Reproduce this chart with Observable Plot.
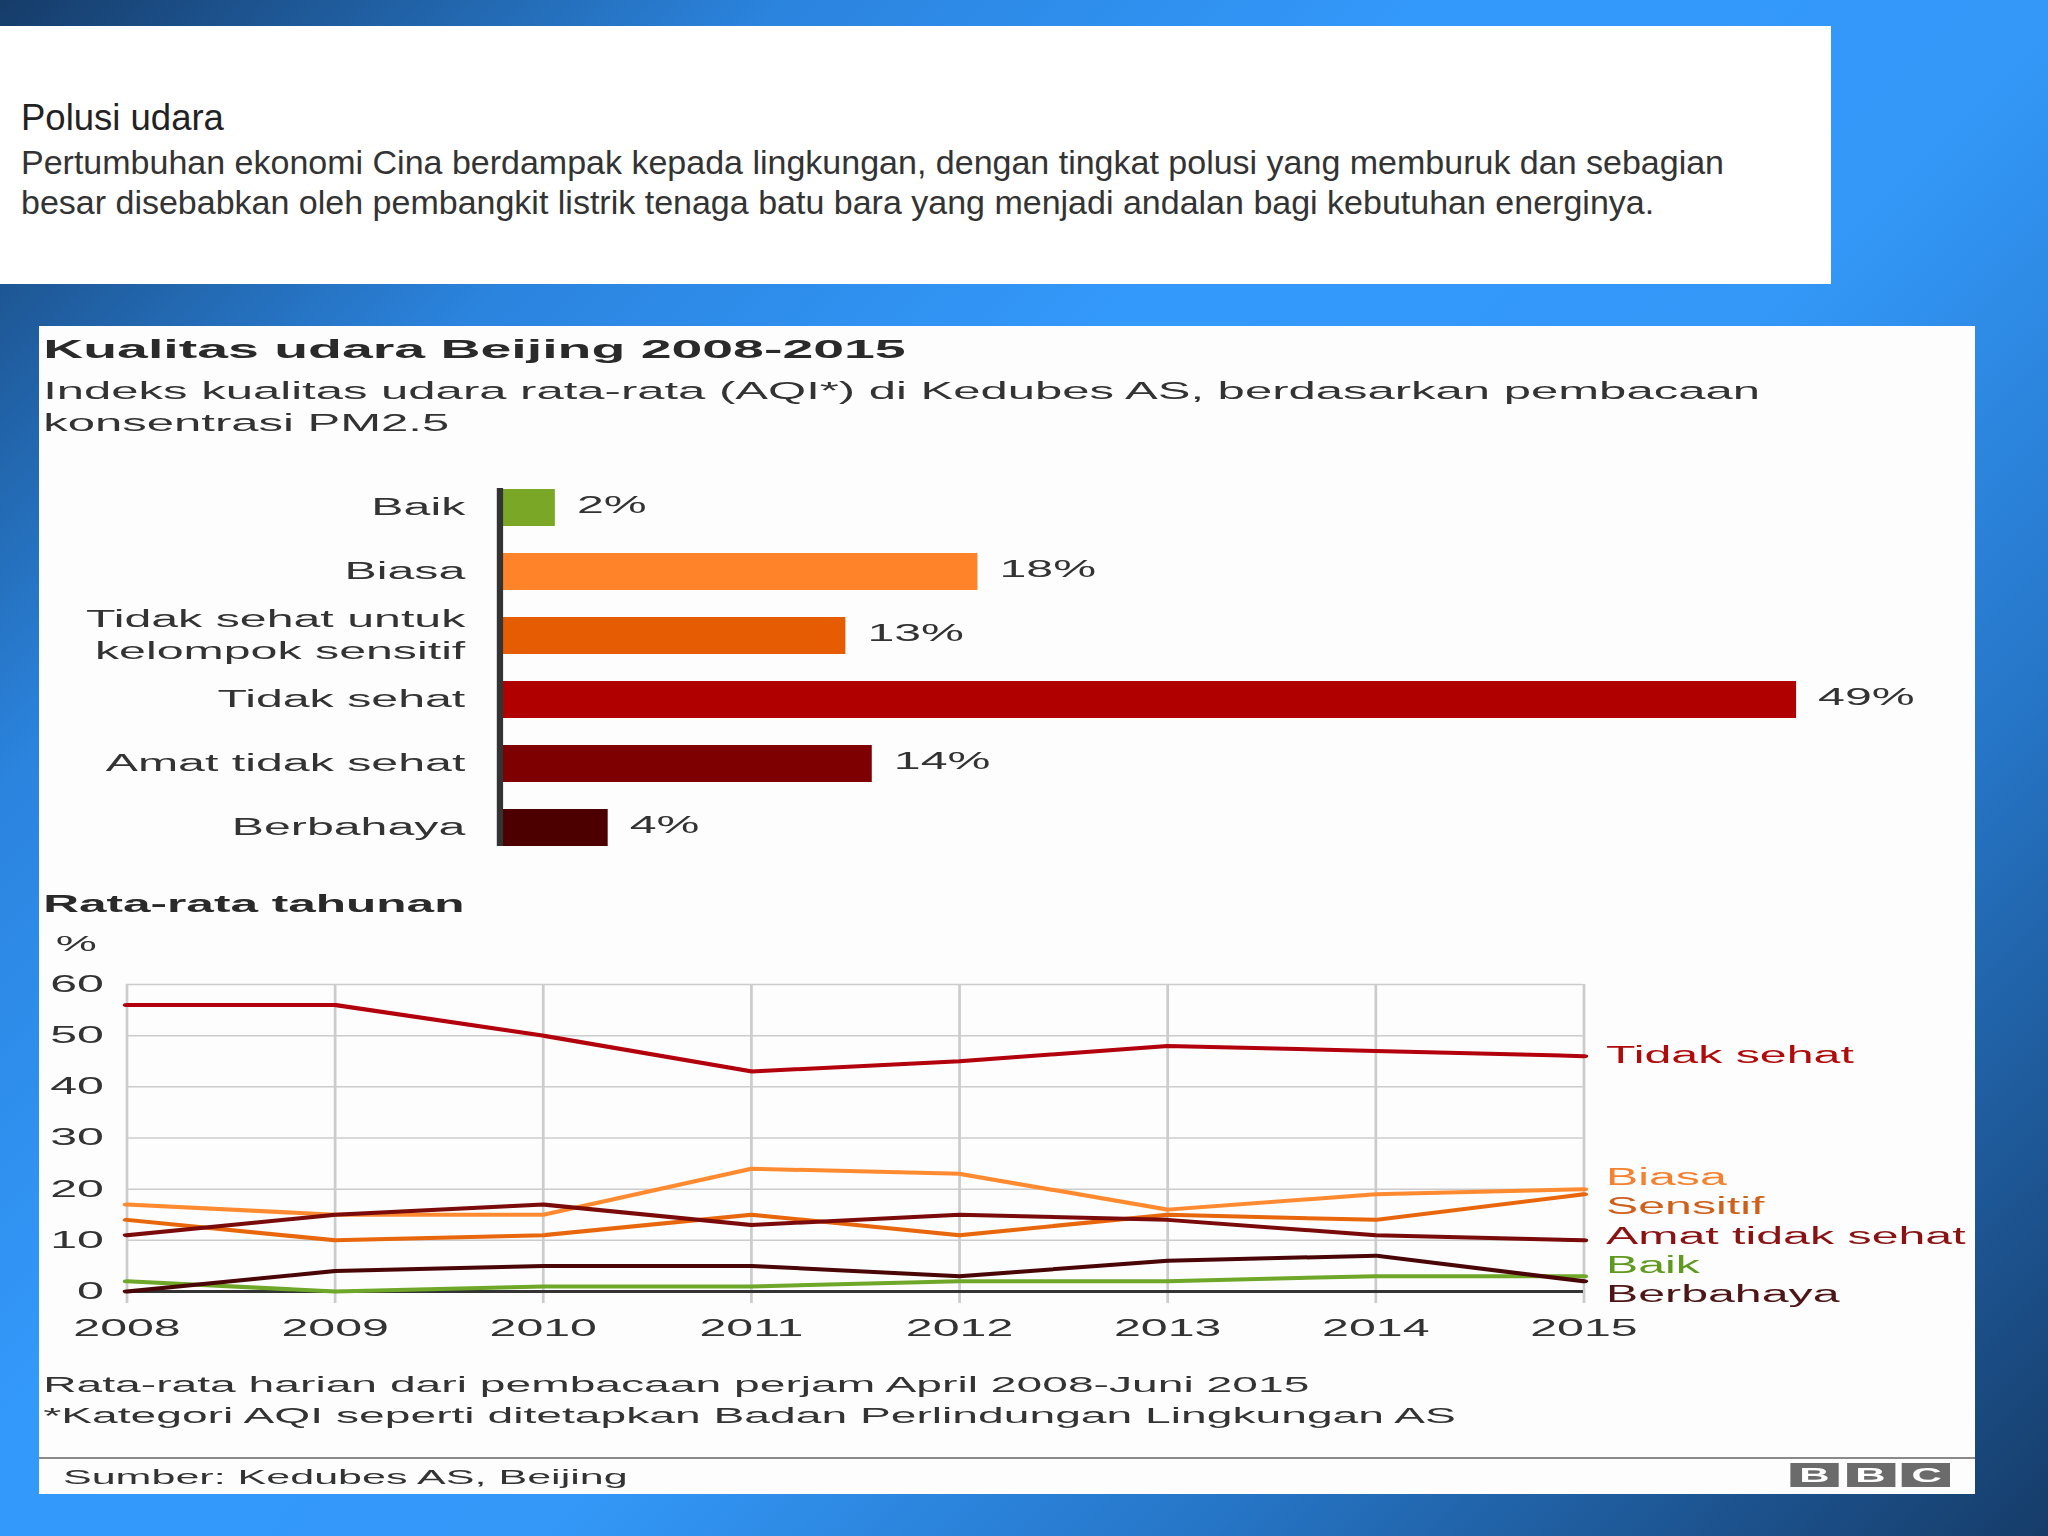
<!DOCTYPE html>
<html><head><meta charset="utf-8">
<script src="https://cdn.jsdelivr.net/npm/d3@7"></script>
<script src="https://cdn.jsdelivr.net/npm/@observablehq/plot@0.6"></script>
<style>
html,body{margin:0;padding:0;}
body{width:2048px;height:1536px;position:relative;overflow:hidden;font-family:"Liberation Sans",Arial,Helvetica,sans-serif;
background:linear-gradient(135deg,#163c69 0%,#2b84de 22%,#3399fb 40%,#3398f8 58%,#2676c8 76%,#163c69 100%);}
.abs{position:absolute;white-space:nowrap;}
#header{position:absolute;left:0;top:26px;width:1831px;height:258px;background:#fff;}
#chartbox{position:absolute;left:39px;top:326px;width:1936px;height:1168px;background:#fdfdfd;overflow:hidden;}
#inner{position:absolute;left:0;top:0;width:922px;height:1168px;transform:scaleX(2.1);transform-origin:0 0;}
#inner svg{position:absolute;left:0;overflow:visible;}
.bbc{position:absolute;top:1137px;width:23.3px;height:24px;background:#6b6b6b;color:#fff;font-weight:bold;font-size:20px;line-height:24px;text-align:center;}
</style></head>
<body>
<div id="header"></div>
<div id="chartbox"><div id="inner"></div></div>
<script>
// ---- data ----
const categories = ["Baik", "Biasa", "Tidak sehat untuk\nkelompok sensitif", "Tidak sehat", "Amat tidak sehat", "Berbahaya"];
const shares = [2, 18, 13, 49, 14, 4];
const barColors = ["#7aa826", "#fe8329", "#e65c02", "#b10000", "#7e0000", "#4c0000"];

const years = [2008, 2009, 2010, 2011, 2012, 2013, 2014, 2015];
const seriesNames = ["Tidak sehat", "Biasa", "Sensitif", "Amat tidak sehat", "Baik", "Berbahaya"];
const tidakSehat = [56, 56, 50, 43, 45, 48, 47, 46];
const biasa = [17, 15, 15, 24, 23, 16, 19, 20];
const sensitif = [14, 10, 11, 15, 11, 15, 14, 19];
const amatTidakSehat = [11, 15, 17, 13, 15, 14, 11, 10];
const baik = [2, 0, 1, 1, 2, 2, 3, 3];
const berbahaya = [0, 4, 5, 5, 3, 6, 7, 2];
const yTicks = [0, 10, 20, 30, 40, 50, 60];
const lineColors = ["#b3000d", "#ff8a30", "#e8660c", "#7b0a0a", "#6fa728", "#4a0606"];
const labelColors = ["#b00a0a", "#f3812f", "#cf601c", "#8a1212", "#5f9a1f", "#4d1515"];

const FONT = '"Liberation Sans", Arial, Helvetica, sans-serif';

function txt(parent, s, x, baseline, size, opts = {}) {
  const d = document.createElement("div");
  d.className = "abs";
  d.textContent = s;
  d.style.left = x + "px";
  d.style.top = (baseline - 0.8465 * size) + "px";
  d.style.fontSize = size + "px";
  d.style.lineHeight = size + "px";
  d.style.fontWeight = opts.bold ? "bold" : "normal";
  d.style.color = opts.color || "#333";
  parent.appendChild(d);
}

// ---- header ----
const header = document.getElementById("header");
txt(header, "Polusi udara", 21, 105, 36.5, {color: "#222"});
txt(header, "Pertumbuhan ekonomi Cina berdampak kepada lingkungan, dengan tingkat polusi yang memburuk dan sebagian", 21, 148, 34, {color: "#333"});
txt(header, "besar disebabkan oleh pembangkit listrik tenaga batu bara yang menjadi andalan bagi kebutuhan energinya.", 21, 188, 34, {color: "#333"});

// ---- chart box texts ----
const inner = document.getElementById("inner");
txt(inner, "Kualitas udara Beijing 2008-2015", 2, 32, 26.4, {bold: true, color: "#2a2a2a"});
txt(inner, "Indeks kualitas udara rata-rata (AQI*) di Kedubes AS, berdasarkan pembacaan", 2, 74, 23.35);
txt(inner, "konsentrasi PM2.5", 2, 106, 23.35);
txt(inner, "Rata-rata tahunan", 2, 587, 23.6, {bold: true, color: "#2a2a2a"});
txt(inner, "%", 8, 626, 22);
txt(inner, "Rata-rata harian dari pembacaan perjam April 2008-Juni 2015", 2, 1067, 22);
txt(inner, "*Kategori AQI seperti ditetapkan Badan Perlindungan Lingkungan AS", 2, 1098, 22);
txt(inner, "Sumber: Kedubes AS, Beijing", 11.4, 1158, 20.5);
const sep = document.createElement("div");
sep.style.cssText = "position:absolute;left:0;top:1131px;width:922px;height:2px;background:#8a8a8a;";
inner.appendChild(sep);
["B", "B", "C"].forEach((ch, i) => {
  const b = document.createElement("div");
  b.className = "bbc";
  b.style.left = (833.8 + i * 26.7) + "px";
  b.textContent = ch;
  inner.appendChild(b);
});

// ---- bar chart ----
const barData = categories.map((c, i) => ({cat: c, value: shares[i]}));
const barPlot = Plot.plot({
  width: 922, height: 400,
  marginTop: 22, marginBottom: 20, marginLeft: 220.5, marginRight: 85.3,
  x: {domain: [0, d3.max(shares)], axis: null},
  y: {domain: categories, axis: null, paddingInner: 0.424, paddingOuter: 0},
  color: {domain: categories, range: barColors},
  style: {fontFamily: FONT, fontSize: "23px", color: "#333", background: "none"},
  marks: [
    Plot.barX(barData, {x: "value", y: "cat", fill: "cat"}),
    Plot.ruleX([0], {stroke: "#333", strokeWidth: 3, dx: -1.5}),
    Plot.text(barData, {x: 0, y: "cat", text: "cat", textAnchor: "end", dx: -18, dy: -3, lineHeight: 1.39, fontSize: 23, fill: "#333"}),
    Plot.text(barData, {x: "value", y: "cat", text: d => d.value + "%", textAnchor: "start", dx: 10, dy: -2, fontSize: 23, fill: "#333"})
  ]
});
barPlot.style.top = "140px";
inner.appendChild(barPlot);

// ---- line chart ----
const seriesValues = [tidakSehat, biasa, sensitif, amatTidakSehat, baik, berbahaya];
const lineData = seriesNames.flatMap((s, i) => years.map((y, j) => ({series: s, year: y, value: seriesValues[i][j]})));
const lastYear = years[years.length - 1];
const finals = seriesNames.map((s, i) => ({series: s, value: seriesValues[i][years.length - 1], color: labelColors[i]}));

function spread(items, gap) {
  const sorted = items.slice().sort((a, b) => b.value - a.value);
  let clusters = sorted.map(d => ({items: [d], center: d.value}));
  let changed = true;
  while (changed) {
    changed = false;
    for (let i = 0; i < clusters.length - 1; i++) {
      const a = clusters[i], b = clusters[i + 1];
      const aBottom = a.center - (a.items.length - 1) / 2 * gap;
      const bTop = b.center + (b.items.length - 1) / 2 * gap;
      if (aBottom - bTop < gap) {
        const merged = a.items.concat(b.items);
        clusters.splice(i, 2, {items: merged, center: d3.mean(merged, d => d.value)});
        changed = true;
        break;
      }
    }
  }
  const out = [];
  for (const c of clusters) c.items.forEach((d, k) => out.push({...d, labelY: c.center + ((c.items.length - 1) / 2 - k) * gap}));
  return out;
}
const endLabels = spread(finals, 5.7);

const linePlot = Plot.plot({
  width: 922, height: 380,
  marginTop: 18, marginBottom: 55, marginLeft: 41.4, marginRight: 186.8,
  x: {domain: d3.extent(years)},
  y: {domain: [0, d3.max(yTicks)]},
  color: {domain: seriesNames, range: lineColors},
  style: {fontFamily: FONT, fontSize: "23px", color: "#333", background: "none"},
  marks: [
    Plot.gridY(yTicks, {stroke: "#cccccc", strokeOpacity: 1, strokeWidth: 1.5}),
    Plot.gridX(years, {stroke: "#cccccc", strokeOpacity: 1, strokeWidth: 1.3}),
    Plot.axisX({ticks: years, tickFormat: d => String(d), tickSize: 12, tickPadding: 16, stroke: "#cccccc", strokeWidth: 1.3, fill: "#333", fontSize: 23, label: null}),
    Plot.axisY({ticks: yTicks, tickSize: 0, tickPadding: 11, fill: "#333", fontSize: 23, label: null}),
    Plot.ruleY([0], {stroke: "#333", strokeWidth: 3}),
    Plot.line(lineData, {x: "year", y: "value", z: "series", stroke: "series", strokeWidth: 4}),
    ...endLabels.map(d => Plot.text([d], {x: lastYear, y: "labelY", text: "series", textAnchor: "start", dx: 10.5, fontSize: 23, fill: d.color}))
  ]
});
linePlot.style.top = "640px";
inner.appendChild(linePlot);
</script>
</body></html>
